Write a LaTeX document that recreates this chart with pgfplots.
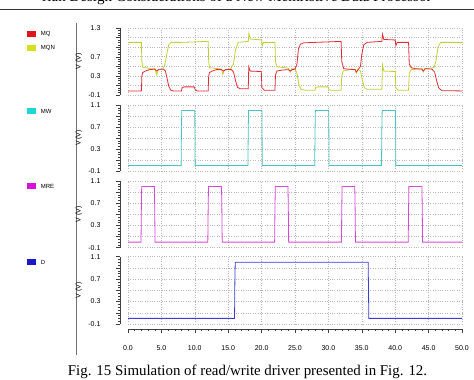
\documentclass[border=0pt]{standalone}
\usepackage{fontspec}
\setmainfont{Liberation Serif}
\newfontfamily\lsans{Liberation Sans}
\usepackage{pgfplots}
\pgfplotsset{compat=1.18}
\definecolor{cMQ}{RGB}{226,45,55}
\definecolor{cMQN}{RGB}{196,206,50}
\definecolor{cMW}{RGB}{70,196,196}
\definecolor{cMRE}{RGB}{214,72,214}
\definecolor{cD}{RGB}{60,60,212}
\definecolor{lMQ}{RGB}{225,20,30}
\definecolor{lMQN}{RGB}{214,224,30}
\definecolor{lMW}{RGB}{30,214,214}
\definecolor{lMRE}{RGB}{214,20,214}
\definecolor{lD}{RGB}{25,25,200}
\newcommand{\tickfont}{\lsans\fontsize{7}{8}\selectfont}
\pgfplotsset{panel/.style={
  scale only axis, width=334pt, xmin=0, xmax=50,
  axis x line*=bottom, axis y line*=left,
  tick align=outside, major tick length=4pt, minor tick length=2.2pt,
  xtick={0,5,...,50}, minor x tick num=4,
  minor y tick num=3,
  grid=major, major grid style={dotted, black!28, line width=0.45pt},
  y axis line style={xshift=-8pt, black!75, line width=0.5pt},
  ytick style={xshift=-8pt, black!75, line width=0.4pt},
  yticklabel style={font=\tickfont, xshift=-20pt},
  ylabel={V (V)},
  ylabel style={font=\tickfont, at={(axis description cs:-0.147,0.5)}, anchor=center},
  every axis plot/.append style={line width=0.8pt, mark=none},
 },
 hidex/.style={x axis line style={draw=none}, xtick style={draw=none}, xticklabels={}},
}
\begin{document}
\begin{tikzpicture}[x=1pt,y=1pt]
\useasboundingbox (0pt,0pt) rectangle (474pt,380pt);
% top cut-off header
\node[anchor=base, font=\fontsize{15}{17}\selectfont] at (237pt,378.3pt) {rian Design Considerations of a New Memristive Data Processor};
\draw[line width=1.3pt, black!80] (0pt,370.5pt) -- (474pt,370.5pt);
% separator
\draw[black!55, line width=0.8pt] (76.5pt,357pt) -- (76.5pt,25pt);
% legend patches
\fill[lMQ] (26.7pt,343.3pt) rectangle (36pt,349pt);
\node[anchor=west, font=\lsans\fontsize{6}{7}\selectfont, inner sep=0pt] at (40.7pt,346pt) {MQ};
\fill[lMQN] (26.7pt,329.3pt) rectangle (36pt,335pt);
\node[anchor=west, font=\lsans\fontsize{6}{7}\selectfont, inner sep=0pt] at (40.7pt,332pt) {MQN};
\fill[lMW] (26.7pt,266pt) rectangle (36pt,272.3pt);
\node[anchor=west, font=\lsans\fontsize{6}{7}\selectfont, inner sep=0pt] at (40.7pt,269pt) {MW};
\fill[lMRE] (26.7pt,190.7pt) rectangle (36pt,196.7pt);
\node[anchor=west, font=\lsans\fontsize{6}{7}\selectfont, inner sep=0pt] at (40.7pt,193.7pt) {MRE};
\fill[lD] (26.7pt,115pt) rectangle (36pt,120.5pt);
\node[anchor=west, font=\lsans\fontsize{6}{7}\selectfont, inner sep=0pt] at (40.7pt,117.8pt) {D};

% Panel 1: MQ / MQN
\begin{axis}[panel, hidex, at={(128pt,285pt)}, anchor=south west, height=67pt,
  ymin=-0.1, ymax=1.3,
  ytick={-0.1,0.1,0.3,0.5,0.7,0.9,1.1,1.3}, yticklabels={-0.1,,0.3,,0.7,,,1.3}]
\addplot[cMQN] coordinates {
(0,1.0) (2.0,1.0) (2.08,0.60) (2.2,0.48) (3.0,0.46) (4.0,0.46) (4.3,0.32) (4.5,0.42) (5.2,0.45) (5.5,0.52) (5.8,0.75) (6.1,0.95) (6.5,1.0) (8.0,1.0) (10,1.01) (12.0,1.02) (12.08,0.60) (12.2,0.47) (13.5,0.45) (14.0,0.44) (14.2,0.33) (14.4,0.42) (15.4,0.45) (15.8,0.55) (16.1,0.85) (16.5,1.0) (18.0,1.02) (18.1,1.19) (18.3,1.07) (20.0,1.05) (20.1,0.93) (20.3,1.0) (22.0,1.0) (22.08,0.6) (22.3,0.49) (24.0,0.46) (24.3,0.38) (24.5,0.45) (25.0,0.45) (25.3,0.35) (25.6,0.10) (25.9,0.02) (26.5,0.0) (28.0,0.0) (28.1,0.06) (28.4,0.07) (29.9,0.07) (30.1,0.01) (30.4,0.0) (31.9,0.0) (32.0,0.30) (32.2,0.40) (33.5,0.44) (34.0,0.43) (34.2,0.36) (34.4,0.44) (34.8,0.40) (35.1,0.20) (35.4,0.05) (35.8,0.02) (38.0,0.02) (38.1,0.53) (38.3,0.40) (40.0,0.39) (40.1,0.05) (40.4,0.0) (42.0,0.0) (42.1,0.35) (42.4,0.43) (44.0,0.45) (44.2,0.38) (44.4,0.45) (45.8,0.47) (46.1,0.6) (46.4,0.9) (46.8,1.0) (50,1.0)
};
\addplot[cMQ] coordinates {
(0,-0.015) (2.0,-0.015) (2.08,0.30) (2.2,0.37) (2.6,0.40) (3.2,0.43) (4.0,0.44) (4.3,0.40) (4.6,0.44) (5.3,0.44) (5.6,0.40) (5.85,0.25) (6.1,0.08) (6.4,0.0) (6.8,-0.015) (8.0,-0.015) (8.1,0.05) (8.4,0.07) (9.9,0.07) (10.1,0.0) (10.4,-0.015) (12.0,-0.015) (12.08,0.30) (12.2,0.37) (12.6,0.40) (13.2,0.43) (14.0,0.43) (14.3,0.40) (14.6,0.43) (15.5,0.43) (15.8,0.38) (16.1,0.2) (16.4,0.06) (16.8,0.03) (18.0,0.03) (18.08,0.49) (18.3,0.40) (19.95,0.39) (20.05,0.05) (20.4,0.0) (22.0,0.0) (22.08,0.32) (22.3,0.40) (23,0.42) (24.0,0.43) (24.3,0.40) (24.6,0.43) (25.0,0.44) (25.3,0.55) (25.5,0.85) (25.8,0.96) (26.3,0.99) (31.9,1.02) (32.0,0.60) (32.3,0.45) (33,0.44) (34.0,0.43) (34.2,0.38) (34.5,0.44) (34.8,0.50) (35.0,0.75) (35.3,0.95) (35.8,1.0) (38.0,1.02) (38.1,1.17) (38.3,1.06) (40.0,1.05) (40.1,0.93) (40.3,1.0) (42.0,1.0) (42.1,0.55) (42.4,0.47) (43,0.45) (44.0,0.44) (44.2,0.40) (44.5,0.45) (45.5,0.44) (45.9,0.38) (46.2,0.2) (46.5,0.05) (47,-0.01) (50,-0.015)
};
\end{axis}

% Panel 2: MW
\begin{axis}[panel, hidex, at={(128pt,209pt)}, anchor=south west, height=66pt,
  ymin=-0.1, ymax=1.1,
  ytick={-0.1,0.1,0.3,0.5,0.7,0.9,1.1}, yticklabels={-0.1,,0.3,,0.7,,1.1}]
\addplot[cMW] coordinates {
(0,0) (7.95,0) (8.0,0.65) (8.05,1.0) (10.0,1.0) (10.05,0) (17.95,0) (18.0,0.65) (18.05,1.0) (20.05,1.0) (20.1,0) (27.95,0) (28.0,0.65) (28.05,1.0) (30.05,1.0) (30.1,0) (37.95,0) (38.0,0.65) (38.05,1.0) (40.05,1.0) (40.1,0) (50,0)
};
\end{axis}

% Panel 3: MRE
\begin{axis}[panel, hidex, at={(128pt,132.3pt)}, anchor=south west, height=66.7pt,
  ymin=-0.1, ymax=1.1,
  ytick={-0.1,0.1,0.3,0.5,0.7,0.9,1.1}, yticklabels={-0.1,,0.3,,0.7,,1.1}]
\addplot[cMRE] coordinates {
(0,0) (1.95,0) (2.0,0.6) (2.05,1.0) (3.95,1.0) (4.0,0.6) (4.05,0) (11.95,0) (12.0,0.6) (12.05,1.0) (14.0,1.0) (14.05,0.6) (14.1,0) (21.95,0) (22.0,0.6) (22.05,1.0) (23.95,1.0) (24.0,0.6) (24.05,0) (31.95,0) (32.0,0.6) (32.05,1.0) (33.95,1.0) (34.0,0.6) (34.05,0) (41.95,0) (42.0,0.6) (42.05,1.0) (44.0,1.0) (44.05,0.6) (44.1,0) (50,0)
};
\end{axis}

% Panel 4: D
\begin{axis}[panel, at={(128pt,56pt)}, anchor=south west, height=67.3pt,
  ymin=-0.1, ymax=1.1,
  ytick={-0.1,0.1,0.3,0.5,0.7,0.9,1.1}, yticklabels={-0.1,,0.3,,0.7,,1.1},
  x axis line style={yshift=-5pt, black!75, line width=0.5pt},
  xtick style={yshift=-5pt, black!75, line width=0.4pt},
  xticklabels={0.0,5.0,10.0,15.0,20.0,25.0,30.0,35.0,40.0,45.0,50.0},
  xticklabel style={font=\tickfont, yshift=-14pt}]
\addplot[cD] coordinates {
(0,0) (15.95,0) (16.0,0.65) (16.05,1.0) (35.95,1.0) (36.0,0.55) (36.05,0) (50,0)
};
\end{axis}

% caption
\node[font=\fontsize{14.9}{17}\selectfont] at (247.5pt,8.5pt) {Fig. 15 Simulation of read/write driver presented in Fig. 12.};
\end{tikzpicture}
\end{document}
